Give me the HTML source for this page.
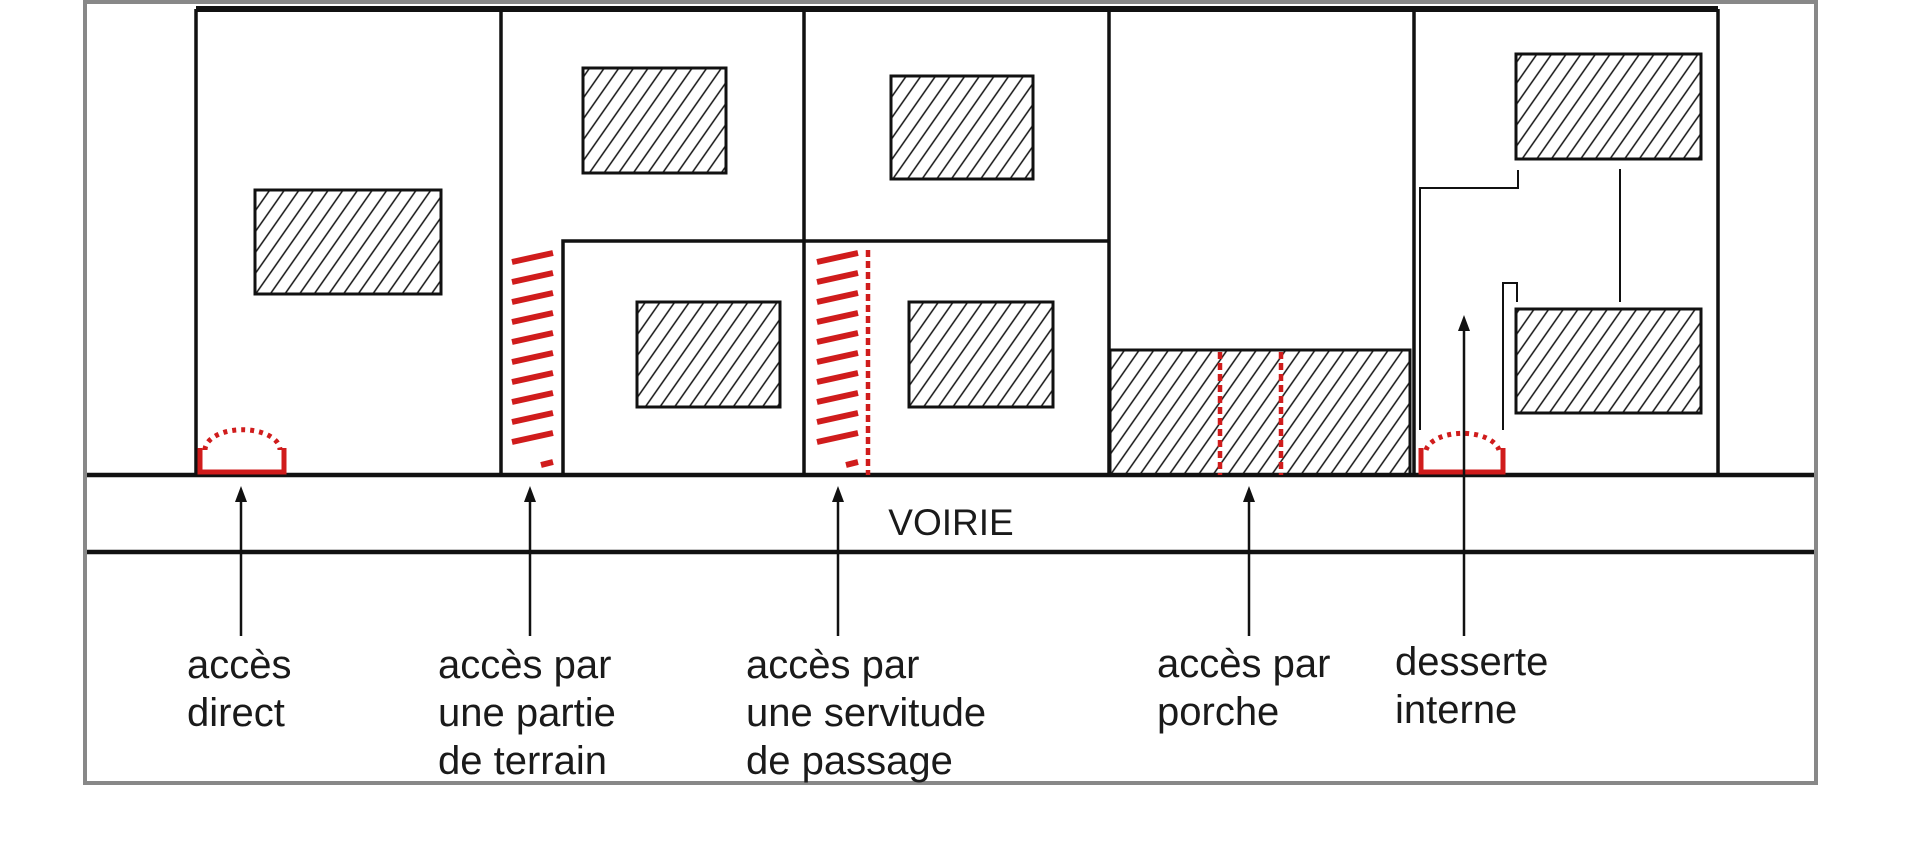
<!DOCTYPE html>
<html><head><meta charset="utf-8"><style>
html,body{margin:0;padding:0;background:#fff;}
svg{display:block;}
text{font-family:"Liberation Sans",Arial,sans-serif;fill:#1a1a1a;}
</style></head><body>
<svg width="1920" height="858" viewBox="0 0 1920 858" xmlns="http://www.w3.org/2000/svg">
<defs>
<pattern id="h" patternUnits="userSpaceOnUse" width="12" height="12" patternTransform="rotate(35)">
<line x1="6" y1="-2" x2="6" y2="14" stroke="#111" stroke-width="1.5"/>
</pattern>
</defs>
<rect x="85" y="2" width="1731" height="781" fill="#fff" stroke="#888" stroke-width="4"/>
<line x1="196" y1="9" x2="1718" y2="9" stroke="#111" stroke-width="6"/>
<line x1="87" y1="475" x2="1814" y2="475" stroke="#111" stroke-width="4.5"/>
<line x1="87" y1="552" x2="1814" y2="552" stroke="#111" stroke-width="4.5"/>
<text x="951" y="535" font-size="37" text-anchor="middle">VOIRIE</text>
<g stroke="#111" stroke-width="3.5" fill="none">
<line x1="196" y1="9" x2="196" y2="475"/>
<line x1="501" y1="9" x2="501" y2="475"/>
<line x1="804" y1="9" x2="804" y2="475"/>
<line x1="1109" y1="9" x2="1109" y2="475"/>
<line x1="1414" y1="9" x2="1414" y2="475"/>
<line x1="1718" y1="9" x2="1718" y2="475"/>
<polyline points="563,475 563,241 1109,241"/>
</g>
<g fill="url(#h)" stroke="#111" stroke-width="3">
<rect x="255" y="190" width="186" height="104"/>
<rect x="583" y="68" width="143" height="105"/>
<rect x="891" y="76" width="142" height="103"/>
<rect x="637" y="302" width="143" height="105"/>
<rect x="909" y="302" width="144" height="105"/>
<rect x="1110" y="350" width="300" height="125"/>
<rect x="1516" y="54" width="185" height="105"/>
<rect x="1516" y="309" width="185" height="104"/>
</g>
<g stroke="#111" stroke-width="2" fill="none">
<line x1="1620" y1="169" x2="1620" y2="302"/>
<polyline points="1420,430 1420,188 1518,188 1518,170"/>
<polyline points="1503,430 1503,283 1517,283 1517,302"/>
</g>
<g stroke="#d01c1c" fill="none">
<polyline points="200,448 200,472 284,472 284,448" stroke-width="5"/>
<path d="M205 450 A37 20 0 0 1 280 450" stroke-width="5" stroke-dasharray="4 5"/>
<polyline points="1421,448 1421,472 1503,472 1503,448" stroke-width="5"/>
<path d="M1426 450 A37 20 0 0 1 1499 450" stroke-width="5" stroke-dasharray="4 5"/>
<g stroke-width="6">
<line x1="512" y1="262" x2="553" y2="253"/>
<line x1="512" y1="282" x2="553" y2="273"/>
<line x1="512" y1="302" x2="553" y2="293"/>
<line x1="512" y1="322" x2="553" y2="313"/>
<line x1="512" y1="342" x2="553" y2="333"/>
<line x1="512" y1="362" x2="553" y2="353"/>
<line x1="512" y1="382" x2="553" y2="373"/>
<line x1="512" y1="402" x2="553" y2="393"/>
<line x1="512" y1="422" x2="553" y2="413"/>
<line x1="512" y1="442" x2="553" y2="433"/>
<line x1="541" y1="465" x2="553" y2="462"/>
<line x1="817" y1="262" x2="858" y2="253"/>
<line x1="817" y1="282" x2="858" y2="273"/>
<line x1="817" y1="302" x2="858" y2="293"/>
<line x1="817" y1="322" x2="858" y2="313"/>
<line x1="817" y1="342" x2="858" y2="333"/>
<line x1="817" y1="362" x2="858" y2="353"/>
<line x1="817" y1="382" x2="858" y2="373"/>
<line x1="817" y1="402" x2="858" y2="393"/>
<line x1="817" y1="422" x2="858" y2="413"/>
<line x1="817" y1="442" x2="858" y2="433"/>
<line x1="846" y1="465" x2="858" y2="462"/>
</g>
<line x1="868" y1="250" x2="868" y2="475" stroke-width="4.5" stroke-dasharray="7 4"/>
<line x1="1220" y1="352" x2="1220" y2="475" stroke-width="4.5" stroke-dasharray="7 4"/>
<line x1="1281" y1="352" x2="1281" y2="475" stroke-width="4.5" stroke-dasharray="7 4"/>
</g>
<g stroke="#111" stroke-width="2.5">
<line x1="241" y1="498" x2="241" y2="636"/>
<line x1="530" y1="498" x2="530" y2="636"/>
<line x1="838" y1="498" x2="838" y2="636"/>
<line x1="1249" y1="498" x2="1249" y2="636"/>
<line x1="1464" y1="328" x2="1464" y2="636"/>
</g>
<g fill="#111">
<polygon points="241,486 235,502 247,502"/>
<polygon points="530,486 524,502 536,502"/>
<polygon points="838,486 832,502 844,502"/>
<polygon points="1249,486 1243,502 1255,502"/>
<polygon points="1464,315 1458,331 1470,331"/>
</g>
<g font-size="40">
<text x="187" y="678">accès</text>
<text x="187" y="726">direct</text>
<text x="438" y="678">accès par</text>
<text x="438" y="726">une partie</text>
<text x="438" y="774">de terrain</text>
<text x="746" y="678">accès par</text>
<text x="746" y="726">une servitude</text>
<text x="746" y="774">de passage</text>
<text x="1157" y="677">accès par</text>
<text x="1157" y="725">porche</text>
<text x="1395" y="675">desserte</text>
<text x="1395" y="723">interne</text>
</g>
</svg>
</body></html>
